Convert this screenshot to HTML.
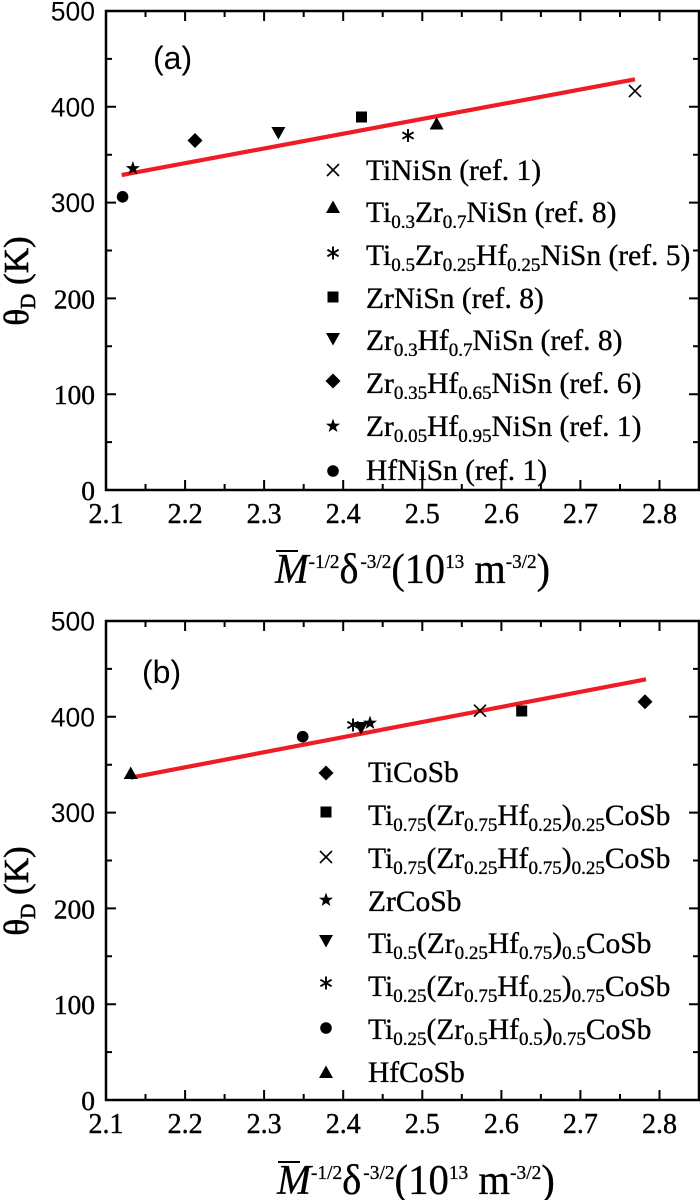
<!DOCTYPE html>
<html>
<head>
<meta charset="utf-8">
<style>
  html, body { margin: 0; padding: 0; background: #fff; }
  svg { display: block; }
</style>
</head>
<body>
<svg width="700" height="1200" viewBox="0 0 700 1200" xmlns="http://www.w3.org/2000/svg">
  <defs>
    <g id="m-x"><path d="M-6,-6 L6,6 M-6,6 L6,-6" stroke="#000" stroke-width="1.6" fill="none"/></g>
    <g id="m-tri"><polygon points="0,-7.5 7,5 -7,5" fill="#000"/></g>
    <g id="m-dtri"><polygon points="0,7.5 7,-5 -7,-5" fill="#000"/></g>
    <g id="m-sq"><rect x="-5.5" y="-5.5" width="11" height="11" fill="#000"/></g>
    <g id="m-dia"><polygon points="0,-7.5 7.5,0 0,7.5 -7.5,0" fill="#000"/></g>
    <g id="m-circ"><circle cx="0" cy="0" r="5.8" fill="#000"/></g>
    <g id="m-star"><polygon points="0,-7.5 1.75,-2.4 7.1,-2.3 2.85,0.93 4.4,6.05 0,3 -4.4,6.05 -2.85,0.93 -7.1,-2.3 -1.75,-2.4" fill="#000"/></g>
    <g id="m-ast"><path d="M0,-6.5 L0,6.5 M-5.6,-3.3 L5.6,3.3 M-5.6,3.3 L5.6,-3.3" stroke="#000" stroke-width="1.9" fill="none"/></g>
    <path id="ticks" stroke="#000" stroke-width="2" fill="none" d="
        M185.1,490 v-10 M264.1,490 v-10 M343.2,490 v-10 M422.3,490 v-10 M501.4,490 v-10 M580.4,490 v-10 M659.5,490 v-10
        M145.5,490 v-6 M224.6,490 v-6 M303.7,490 v-6 M382.7,490 v-6 M461.8,490 v-6 M540.9,490 v-6 M620,490 v-6
        M185.1,11 v10 M264.1,11 v10 M343.2,11 v10 M422.3,11 v10 M501.4,11 v10 M580.4,11 v10 M659.5,11 v10
        M145.5,11 v6 M224.6,11 v6 M303.7,11 v6 M382.7,11 v6 M461.8,11 v6 M540.9,11 v6 M620,11 v6
        M106,106.8 h10 M106,202.6 h10 M106,298.4 h10 M106,394.2 h10
        M106,58.9 h6 M106,154.7 h6 M106,250.5 h6 M106,346.3 h6 M106,442.1 h6
        M699,106.8 h-10 M699,202.6 h-10 M699,298.4 h-10 M699,394.2 h-10
        M699,58.9 h-6 M699,154.7 h-6 M699,250.5 h-6 M699,346.3 h-6 M699,442.1 h-6"/>
  </defs>

  <!-- ================= PANEL (a) ================= -->
  <g>
    <rect x="106" y="11" width="593" height="479" fill="none" stroke="#000" stroke-width="2.5"/>
    <use href="#ticks"/>
    <g font-family="'Liberation Sans', Arial, sans-serif" font-size="26.5" text-anchor="end" fill="#000">
      <text x="95" y="20.5">500</text>
      <text x="95" y="116.3">400</text>
      <text x="95" y="212.1">300</text>
    </g>
    <g font-family="'Liberation Serif', 'Times New Roman', serif" font-size="27.5" text-anchor="end" fill="#000" stroke="#000" stroke-width="0.4">
      <text x="95" y="308.4">200</text>
      <text x="95" y="404.2">100</text>
      <text x="95" y="500">0</text>
    </g>
    <g font-family="'Liberation Serif', 'Times New Roman', serif" font-size="28" text-anchor="middle" fill="#000" stroke="#000" stroke-width="0.4">
      <text x="106" y="523">2.1</text>
      <text x="185.1" y="523">2.2</text>
      <text x="264.1" y="523">2.3</text>
      <text x="343.2" y="523">2.4</text>
      <text x="422.3" y="523">2.5</text>
      <text x="501.4" y="523">2.6</text>
      <text x="580.4" y="523">2.7</text>
      <text x="659.5" y="523">2.8</text>
    </g>
    <line x1="276" y1="551" x2="298" y2="551" stroke="#000" stroke-width="2"/>
    <g transform="translate(275,583) scale(0.96,1)">
      <text x="0" y="0" font-family="'Liberation Serif', 'Times New Roman', serif" font-size="42" fill="#000" stroke="#000" stroke-width="0.3"><tspan font-style="italic">M</tspan><tspan font-size="20" dy="-15">-1/2</tspan><tspan dy="15">δ</tspan><tspan font-size="20" dy="-15" dx="2">-3/2</tspan><tspan dy="15">(10</tspan><tspan font-size="20" dy="-15">13</tspan><tspan dy="15"> m</tspan><tspan font-size="20" dy="-15">-3/2</tspan><tspan dy="15">)</tspan></text>
    </g>
    <text transform="translate(28,281) rotate(-90)" text-anchor="middle" font-family="'Liberation Serif', 'Times New Roman', serif" font-size="35" fill="#000" stroke="#000" stroke-width="0.6">θ<tspan font-size="21" dy="7">D</tspan><tspan dy="-7"> (K)</tspan></text>
  </g>
  <text x="153" y="69" font-family="'Liberation Sans', Arial, sans-serif" font-size="32" fill="#000">(a)</text>

  <line x1="121.7" y1="175" x2="635" y2="79.3" stroke="#ee1c24" stroke-width="4.2"/>

  <use href="#m-circ" x="122.6" y="196.8"/>
  <use href="#m-star" x="132.9" y="168.5"/>
  <use href="#m-dia" x="195" y="140.5"/>
  <use href="#m-dtri" x="278.4" y="132"/>
  <use href="#m-sq" x="361.5" y="117"/>
  <use href="#m-ast" x="408" y="135.5"/>
  <use href="#m-tri" x="436.6" y="124.5"/>
  <use href="#m-x" x="635" y="91"/>

  <use href="#m-x" x="333" y="170"/>
  <use href="#m-tri" x="333" y="208"/>
  <use href="#m-ast" x="333" y="253"/>
  <use href="#m-sq" x="333" y="297"/>
  <use href="#m-dtri" x="333" y="338"/>
  <use href="#m-dia" x="333" y="381"/>
  <use href="#m-star" x="333" y="426"/>
  <use href="#m-circ" x="333" y="471"/>

  <g font-family="'Liberation Serif', 'Times New Roman', serif" font-size="29.5" fill="#000" stroke="#000" stroke-width="0.35">
    <text x="366" y="180">TiNiSn (ref. 1)</text>
    <text x="366" y="222">Ti<tspan font-size="19" dy="6">0.3</tspan><tspan dy="-6">Zr</tspan><tspan font-size="19" dy="6">0.7</tspan><tspan dy="-6">NiSn (ref. 8)</tspan></text>
    <text x="366" y="265">Ti<tspan font-size="19" dy="6">0.5</tspan><tspan dy="-6">Zr</tspan><tspan font-size="19" dy="6">0.25</tspan><tspan dy="-6">Hf</tspan><tspan font-size="19" dy="6">0.25</tspan><tspan dy="-6">NiSn (ref. 5)</tspan></text>
    <text x="366" y="308">ZrNiSn (ref. 8)</text>
    <text x="366" y="350">Zr<tspan font-size="19" dy="6">0.3</tspan><tspan dy="-6">Hf</tspan><tspan font-size="19" dy="6">0.7</tspan><tspan dy="-6">NiSn (ref. 8)</tspan></text>
    <text x="366" y="393">Zr<tspan font-size="19" dy="6">0.35</tspan><tspan dy="-6">Hf</tspan><tspan font-size="19" dy="6">0.65</tspan><tspan dy="-6">NiSn (ref. 6)</tspan></text>
    <text x="366" y="436">Zr<tspan font-size="19" dy="6">0.05</tspan><tspan dy="-6">Hf</tspan><tspan font-size="19" dy="6">0.95</tspan><tspan dy="-6">NiSn (ref. 1)</tspan></text>
    <text x="366" y="480">HfNiSn (ref. 1)</text>
  </g>

  <!-- ================= PANEL (b) ================= -->
  <g transform="translate(0,610)">
    <rect x="106" y="11" width="593" height="479" fill="none" stroke="#000" stroke-width="2.5"/>
    <use href="#ticks"/>
    <g font-family="'Liberation Sans', Arial, sans-serif" font-size="26.5" text-anchor="end" fill="#000">
      <text x="95" y="20.5">500</text>
      <text x="95" y="116.3">400</text>
      <text x="95" y="212.1">300</text>
    </g>
    <g font-family="'Liberation Serif', 'Times New Roman', serif" font-size="27.5" text-anchor="end" fill="#000" stroke="#000" stroke-width="0.4">
      <text x="95" y="308.4">200</text>
      <text x="95" y="404.2">100</text>
      <text x="95" y="500">0</text>
    </g>
    <g font-family="'Liberation Serif', 'Times New Roman', serif" font-size="28" text-anchor="middle" fill="#000" stroke="#000" stroke-width="0.4">
      <text x="106" y="523">2.1</text>
      <text x="185.1" y="523">2.2</text>
      <text x="264.1" y="523">2.3</text>
      <text x="343.2" y="523">2.4</text>
      <text x="422.3" y="523">2.5</text>
      <text x="501.4" y="523">2.6</text>
      <text x="580.4" y="523">2.7</text>
      <text x="659.5" y="523">2.8</text>
    </g>
    <line x1="278" y1="552" x2="300" y2="552" stroke="#000" stroke-width="2"/>
    <g transform="translate(277,584) scale(0.97,1)">
      <text x="0" y="0" font-family="'Liberation Serif', 'Times New Roman', serif" font-size="42" fill="#000" stroke="#000" stroke-width="0.3"><tspan font-style="italic">M</tspan><tspan font-size="20" dy="-15">-1/2</tspan><tspan dy="15">δ</tspan><tspan font-size="20" dy="-15" dx="2">-3/2</tspan><tspan dy="15">(10</tspan><tspan font-size="20" dy="-15">13</tspan><tspan dy="15"> m</tspan><tspan font-size="20" dy="-15">-3/2</tspan><tspan dy="15">)</tspan></text>
    </g>
    <text transform="translate(28,281) rotate(-90)" text-anchor="middle" font-family="'Liberation Serif', 'Times New Roman', serif" font-size="35" fill="#000" stroke="#000" stroke-width="0.6">θ<tspan font-size="21" dy="7">D</tspan><tspan dy="-7"> (K)</tspan></text>
  </g>
  <text x="142" y="683" font-family="'Liberation Sans', Arial, sans-serif" font-size="32" fill="#000">(b)</text>

  <line x1="130.7" y1="777.7" x2="646" y2="679.3" stroke="#ee1c24" stroke-width="4.2"/>

  <use href="#m-tri" x="130.7" y="774"/>
  <use href="#m-circ" x="302.7" y="736.7"/>
  <use href="#m-ast" x="353" y="725"/>
  <use href="#m-dtri" x="361" y="727"/>
  <use href="#m-star" x="370" y="723"/>
  <use href="#m-x" x="480" y="710.7"/>
  <use href="#m-sq" x="521.7" y="711"/>
  <use href="#m-dia" x="645" y="701.7"/>

  <use href="#m-dia" x="326" y="773"/>
  <use href="#m-sq" x="326" y="812"/>
  <use href="#m-x" x="326" y="857"/>
  <use href="#m-star" x="326" y="900"/>
  <use href="#m-dtri" x="326" y="940"/>
  <use href="#m-ast" x="326" y="983"/>
  <use href="#m-circ" x="326" y="1028"/>
  <use href="#m-tri" x="326" y="1073"/>

  <g font-family="'Liberation Serif', 'Times New Roman', serif" font-size="29.5" fill="#000" stroke="#000" stroke-width="0.35">
    <text x="368" y="782">TiCoSb</text>
    <text x="368" y="825">Ti<tspan font-size="19" dy="6">0.75</tspan><tspan dy="-6">(Zr</tspan><tspan font-size="19" dy="6">0.75</tspan><tspan dy="-6">Hf</tspan><tspan font-size="19" dy="6">0.25</tspan><tspan dy="-6">)</tspan><tspan font-size="19" dy="6">0.25</tspan><tspan dy="-6">CoSb</tspan></text>
    <text x="368" y="868">Ti<tspan font-size="19" dy="6">0.75</tspan><tspan dy="-6">(Zr</tspan><tspan font-size="19" dy="6">0.25</tspan><tspan dy="-6">Hf</tspan><tspan font-size="19" dy="6">0.75</tspan><tspan dy="-6">)</tspan><tspan font-size="19" dy="6">0.25</tspan><tspan dy="-6">CoSb</tspan></text>
    <text x="368" y="911">ZrCoSb</text>
    <text x="368" y="953">Ti<tspan font-size="19" dy="6">0.5</tspan><tspan dy="-6">(Zr</tspan><tspan font-size="19" dy="6">0.25</tspan><tspan dy="-6">Hf</tspan><tspan font-size="19" dy="6">0.75</tspan><tspan dy="-6">)</tspan><tspan font-size="19" dy="6">0.5</tspan><tspan dy="-6">CoSb</tspan></text>
    <text x="368" y="996">Ti<tspan font-size="19" dy="6">0.25</tspan><tspan dy="-6">(Zr</tspan><tspan font-size="19" dy="6">0.75</tspan><tspan dy="-6">Hf</tspan><tspan font-size="19" dy="6">0.25</tspan><tspan dy="-6">)</tspan><tspan font-size="19" dy="6">0.75</tspan><tspan dy="-6">CoSb</tspan></text>
    <text x="368" y="1039">Ti<tspan font-size="19" dy="6">0.25</tspan><tspan dy="-6">(Zr</tspan><tspan font-size="19" dy="6">0.5</tspan><tspan dy="-6">Hf</tspan><tspan font-size="19" dy="6">0.5</tspan><tspan dy="-6">)</tspan><tspan font-size="19" dy="6">0.75</tspan><tspan dy="-6">CoSb</tspan></text>
    <text x="368" y="1082">HfCoSb</text>
  </g>
</svg>
</body>
</html>
